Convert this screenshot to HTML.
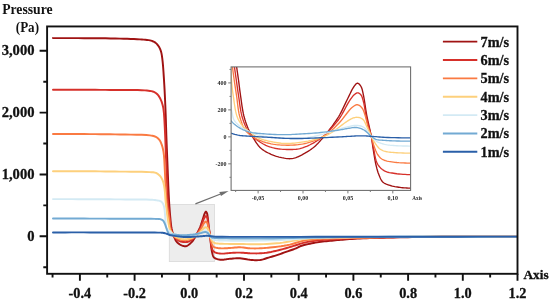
<!DOCTYPE html>
<html><head><meta charset="utf-8"><title>Pressure chart</title>
<style>html,body{margin:0;padding:0;background:#fff;width:550px;height:303px;overflow:hidden}svg{display:block}</style>
</head><body>
<svg width="550" height="303" viewBox="0 0 550 303">
<defs><clipPath id="cm"><rect x="47.1" y="26.45" width="470.4" height="247.35"/></clipPath><clipPath id="ci"><rect x="231.10" y="66.90" width="179.50" height="123.50"/></clipPath></defs>
<rect width="550" height="303" fill="#fff"/>
<rect x="169.3" y="204.4" width="45.2" height="57.2" fill="#ededed" stroke="#d9d9d9" stroke-width="0.8"/>
<g clip-path="url(#cm)" fill="none" stroke-width="1.95" stroke-linejoin="round" stroke-linecap="round">
<path d="M53.00 38.10L59.21 38.11L65.48 38.12L71.74 38.13L77.95 38.14L84.06 38.16L90.00 38.20L95.25 38.24L100.46 38.29L105.58 38.34L110.57 38.41L115.39 38.49L120.00 38.60L123.65 38.70L127.22 38.81L130.68 38.93L133.99 39.06L137.11 39.22L140.00 39.40L141.91 39.52L143.73 39.63L145.45 39.75L147.07 39.91L148.59 40.11L150.00 40.40L150.96 40.65L151.87 40.93L152.72 41.23L153.52 41.57L154.28 41.96L155.00 42.40L155.64 42.87L156.24 43.38L156.79 43.94L157.32 44.53L157.82 45.15L158.30 45.80L158.80 46.54L159.26 47.31L159.69 48.12L160.09 48.98L160.46 49.87L160.80 50.80L161.15 51.95L161.43 53.13L161.67 54.37L161.89 55.70L162.09 57.13L162.30 58.70L162.64 61.60L162.95 64.89L163.23 68.47L163.50 72.24L163.75 76.12L164.00 80.00L164.29 84.70L164.56 89.62L164.82 94.68L165.06 99.81L165.29 104.94L165.50 110.00L165.69 115.03L165.87 120.10L166.02 125.17L166.18 130.20L166.33 135.16L166.50 140.00L166.66 144.30L166.83 148.50L166.99 152.64L167.16 156.75L167.33 160.86L167.50 165.00L167.67 169.24L167.83 173.57L168.00 177.90L168.16 182.14L168.33 186.20L168.50 190.00L168.63 192.74L168.75 195.33L168.88 197.82L169.01 200.24L169.15 202.62L169.30 205.00L169.45 207.18L169.61 209.35L169.77 211.48L169.94 213.57L170.12 215.60L170.30 217.57L170.44 219.20L170.59 220.79L170.74 222.35L170.90 223.86L171.08 225.32L171.30 226.74L171.51 227.90L171.74 229.04L171.99 230.14L172.25 231.20L172.52 232.21L172.79 233.15L173.00 233.82L173.21 234.43L173.42 235.01L173.64 235.58L173.87 236.17L174.13 236.78L174.45 237.54L174.78 238.34L175.13 239.16L175.51 239.96L175.93 240.72L176.39 241.41L176.85 241.98L177.36 242.51L177.90 243.01L178.45 243.47L179.02 243.90L179.58 244.30L180.10 244.63L180.63 244.93L181.17 245.21L181.72 245.46L182.26 245.67L182.81 245.86L183.34 246.00L183.87 246.14L184.41 246.24L184.94 246.31L185.46 246.32L185.95 246.27L186.38 246.16L186.78 246.00L187.18 245.80L187.57 245.55L187.97 245.28L188.39 244.98L189.03 244.50L189.72 243.93L190.43 243.30L191.13 242.63L191.80 241.95L192.41 241.27L192.91 240.64L193.38 239.98L193.82 239.31L194.24 238.64L194.64 237.98L195.03 237.33L195.36 236.77L195.66 236.22L195.96 235.68L196.25 235.13L196.53 234.58L196.82 234.03L197.13 233.44L197.44 232.84L197.75 232.24L198.05 231.64L198.35 231.03L198.65 230.40L198.96 229.75L199.26 229.10L199.55 228.45L199.85 227.77L200.14 227.05L200.45 226.28L200.87 225.11L201.30 223.81L201.74 222.44L202.17 221.06L202.60 219.72L203.01 218.48L203.32 217.50L203.63 216.52L203.93 215.57L204.23 214.68L204.53 213.88L204.83 213.21L205.01 212.86L205.19 212.51L205.37 212.19L205.54 211.94L205.72 211.76L205.90 211.70L206.08 211.76L206.27 211.94L206.46 212.21L206.64 212.52L206.81 212.87L206.96 213.21L207.14 213.72L207.28 214.30L207.40 214.93L207.49 215.61L207.59 216.34L207.70 217.11L207.87 218.41L208.03 219.86L208.19 221.43L208.35 223.06L208.51 224.69L208.70 226.28L208.92 227.91L209.17 229.59L209.42 231.27L209.67 232.93L209.91 234.54L210.10 236.04L210.23 237.17L210.33 238.23L210.42 239.25L210.51 240.26L210.60 241.28L210.71 242.32L210.83 243.47L210.96 244.65L211.09 245.83L211.23 247.00L211.38 248.14L211.53 249.20L211.67 250.03L211.80 250.83L211.94 251.61L212.10 252.36L212.26 253.08L212.45 253.79L212.61 254.39L212.77 255.00L212.95 255.58L213.14 256.14L213.38 256.64L213.67 257.09L213.96 257.41L214.28 257.69L214.63 257.94L215.01 258.16L215.40 258.36L215.80 258.56L216.26 258.76L216.75 258.94L217.26 259.10L217.79 259.24L218.32 259.36L218.84 259.47L219.38 259.58L219.93 259.67L220.49 259.74L221.05 259.79L221.59 259.83L222.13 259.84L222.61 259.82L223.07 259.78L223.53 259.72L223.99 259.65L224.48 259.57L225.00 259.50L225.73 259.40L226.50 259.28L227.30 259.15L228.15 259.02L229.05 258.90L230.00 258.80L231.47 258.66L233.08 258.52L234.79 258.39L236.54 258.30L238.30 258.26L240.00 258.30L241.67 258.45L243.33 258.70L245.00 259.01L246.66 259.32L248.33 259.60L250.00 259.80L251.67 259.94L253.36 260.07L255.05 260.16L256.73 260.19L258.39 260.14L260.00 260.00L261.48 259.75L262.92 259.39L264.34 258.97L265.75 258.51L267.16 258.04L268.60 257.60L270.10 257.17L271.62 256.74L273.14 256.30L274.66 255.85L276.19 255.39L277.70 254.90L279.22 254.38L280.74 253.84L282.25 253.28L283.77 252.71L285.28 252.15L286.80 251.60L288.35 251.06L289.94 250.52L291.53 249.99L293.08 249.46L294.55 248.93L295.90 248.40L296.80 247.99L297.61 247.58L298.37 247.17L299.13 246.77L299.96 246.38L300.90 246.00L302.46 245.49L304.20 245.00L306.07 244.54L307.99 244.10L309.93 243.68L311.80 243.30L313.61 242.95L315.42 242.64L317.24 242.35L319.06 242.09L320.88 241.84L322.70 241.60L324.51 241.38L326.33 241.19L328.15 241.01L329.96 240.84L331.78 240.67L333.60 240.50L335.39 240.33L337.16 240.15L338.93 239.98L340.72 239.82L342.57 239.66L344.50 239.50L346.90 239.32L349.39 239.14L351.95 238.96L354.58 238.80L357.27 238.64L360.00 238.50L363.19 238.35L366.48 238.22L369.84 238.11L373.24 238.00L376.64 237.90L380.00 237.80L383.31 237.70L386.58 237.61L389.86 237.53L393.17 237.45L396.54 237.37L400.00 237.30L403.96 237.23L407.97 237.16L412.06 237.10L416.25 237.05L420.56 237.00L425.00 236.95L430.39 236.90L435.91 236.86L441.59 236.83L447.48 236.80L453.60 236.78L460.00 236.75L468.76 236.72L478.11 236.69L487.86 236.67L497.81 236.65L507.75 236.62L517.50 236.60" stroke="#a01313"/>
<path d="M53.00 89.70L59.21 89.72L65.48 89.73L71.74 89.74L77.95 89.76L84.06 89.78L90.00 89.80L95.21 89.82L100.33 89.85L105.37 89.88L110.32 89.91L115.19 89.95L120.00 90.00L124.45 90.02L128.97 90.02L133.44 90.02L137.69 90.06L141.60 90.18L145.00 90.40L146.80 90.56L148.46 90.72L149.99 90.91L151.40 91.15L152.70 91.47L153.90 91.90L154.71 92.29L155.45 92.72L156.12 93.20L156.74 93.73L157.33 94.29L157.90 94.90L158.48 95.61L159.01 96.38L159.50 97.20L159.96 98.05L160.39 98.92L160.80 99.80L161.21 100.73L161.58 101.70L161.93 102.68L162.25 103.68L162.54 104.69L162.80 105.70L163.03 106.69L163.22 107.65L163.38 108.62L163.52 109.64L163.66 110.76L163.80 112.00L164.03 114.43L164.23 117.20L164.41 120.23L164.58 123.44L164.74 126.72L164.90 130.00L165.09 133.93L165.26 138.03L165.42 142.24L165.58 146.51L165.74 150.79L165.90 155.00L166.06 159.18L166.23 163.37L166.39 167.57L166.56 171.74L166.72 175.89L166.90 180.00L167.06 183.95L167.21 187.93L167.37 191.89L167.54 195.76L167.75 199.48L168.00 203.00L168.24 205.66L168.53 208.23L168.83 210.70L169.13 213.08L169.42 215.37L169.69 217.57L169.86 219.24L170.01 220.84L170.14 222.39L170.29 223.88L170.47 225.33L170.69 226.74L170.92 227.91L171.17 229.07L171.45 230.20L171.74 231.27L172.04 232.26L172.34 233.15L172.54 233.70L172.73 234.20L172.94 234.67L173.15 235.10L173.37 235.52L173.61 235.91L173.83 236.21L174.05 236.48L174.29 236.73L174.53 236.98L174.80 237.23L175.08 237.51L175.49 237.93L175.94 238.40L176.42 238.88L176.93 239.35L177.45 239.79L177.97 240.17L178.47 240.49L178.99 240.77L179.52 241.03L180.06 241.26L180.62 241.46L181.20 241.64L181.86 241.79L182.55 241.91L183.27 242.00L183.98 242.06L184.68 242.09L185.34 242.10L185.87 242.09L186.38 242.07L186.88 242.03L187.38 241.95L187.87 241.84L188.39 241.68L189.05 241.40L189.74 241.04L190.43 240.62L191.11 240.15L191.78 239.66L192.41 239.16L193.00 238.65L193.58 238.11L194.13 237.55L194.66 236.97L195.16 236.39L195.63 235.81L196.02 235.32L196.36 234.83L196.69 234.34L197.00 233.84L197.32 233.33L197.65 232.79L198.05 232.12L198.48 231.39L198.92 230.65L199.33 229.92L199.72 229.21L200.05 228.57L200.25 228.17L200.42 227.81L200.57 227.46L200.72 227.11L200.87 226.73L201.06 226.28L201.43 225.31L201.85 224.13L202.30 222.85L202.76 221.57L203.20 220.39L203.61 219.40L203.85 218.88L204.08 218.40L204.30 217.95L204.53 217.55L204.75 217.19L204.99 216.88L205.14 216.69L205.31 216.50L205.47 216.34L205.64 216.21L205.80 216.12L205.96 216.10L206.13 216.15L206.31 216.26L206.49 216.43L206.66 216.64L206.82 216.87L206.96 217.11L207.15 217.51L207.29 217.98L207.41 218.50L207.52 219.07L207.62 219.68L207.73 220.32L207.89 221.36L208.03 222.52L208.17 223.77L208.31 225.06L208.47 226.37L208.64 227.65L208.86 229.04L209.12 230.48L209.38 231.93L209.65 233.36L209.89 234.75L210.10 236.04L210.23 237.00L210.34 237.89L210.44 238.75L210.54 239.60L210.65 240.48L210.77 241.41L210.92 242.60L211.07 243.88L211.23 245.19L211.42 246.48L211.67 247.66L211.99 248.70L212.27 249.35L212.57 249.95L212.89 250.51L213.26 251.01L213.65 251.46L214.09 251.86L214.55 252.18L215.05 252.43L215.58 252.63L216.14 252.80L216.72 252.95L217.32 253.10L218.05 253.26L218.80 253.39L219.58 253.50L220.40 253.57L221.25 253.62L222.13 253.65L223.32 253.63L224.58 253.54L225.89 253.40L227.24 253.25L228.61 253.11L230.00 253.00L231.60 252.90L233.24 252.80L234.92 252.71L236.62 252.64L238.32 252.60L240.00 252.60L241.67 252.66L243.33 252.78L245.00 252.92L246.67 253.08L248.33 253.21L250.00 253.30L251.68 253.35L253.37 253.39L255.07 253.40L256.75 253.40L258.40 253.36L260.00 253.30L261.38 253.22L262.72 253.12L264.03 253.01L265.34 252.86L266.65 252.70L268.00 252.50L269.47 252.25L270.95 251.97L272.45 251.65L273.96 251.31L275.48 250.96L277.00 250.60L278.62 250.20L280.27 249.78L281.93 249.35L283.59 248.90L285.22 248.45L286.80 248.00L288.20 247.59L289.56 247.18L290.90 246.77L292.23 246.35L293.59 245.93L295.00 245.50L296.61 245.00L298.25 244.47L299.93 243.94L301.62 243.41L303.31 242.93L305.00 242.50L306.63 242.14L308.25 241.82L309.86 241.54L311.51 241.28L313.21 241.04L315.00 240.80L317.32 240.53L319.77 240.29L322.31 240.07L324.88 239.87L327.46 239.68L330.00 239.50L332.50 239.32L335.00 239.16L337.50 239.01L340.00 238.86L342.50 238.73L345.00 238.60L347.47 238.48L349.92 238.37L352.36 238.27L354.84 238.18L357.38 238.09L360.00 238.00L363.17 237.90L366.45 237.81L369.82 237.73L373.23 237.65L376.63 237.57L380.00 237.50L383.31 237.43L386.58 237.37L389.86 237.31L393.17 237.25L396.54 237.20L400.00 237.15L403.96 237.10L407.97 237.05L412.06 237.01L416.25 236.97L420.56 236.93L425.00 236.90L430.39 236.87L435.91 236.84L441.59 236.81L447.48 236.79L453.60 236.77L460.00 236.75L468.76 236.72L478.11 236.70L487.86 236.67L497.81 236.65L507.75 236.62L517.50 236.60" stroke="#d6302a"/>
<path d="M53.00 134.00L59.21 134.01L65.48 134.02L71.74 134.03L77.95 134.04L84.06 134.06L90.00 134.10L95.18 134.14L100.23 134.19L105.20 134.25L110.12 134.32L115.04 134.40L120.00 134.50L125.27 134.58L130.86 134.64L136.46 134.71L141.73 134.83L146.35 135.05L150.00 135.40L151.28 135.59L152.39 135.77L153.37 135.98L154.26 136.22L155.09 136.52L155.90 136.90L156.59 137.30L157.23 137.75L157.84 138.24L158.40 138.77L158.92 139.32L159.40 139.90L159.82 140.49L160.19 141.10L160.52 141.75L160.83 142.42L161.12 143.10L161.40 143.80L161.70 144.58L161.97 145.39L162.23 146.21L162.47 147.06L162.69 147.92L162.90 148.80L163.11 149.76L163.30 150.71L163.46 151.68L163.62 152.70L163.76 153.80L163.90 155.00L164.10 157.09L164.26 159.43L164.40 161.95L164.53 164.60L164.66 167.30L164.80 170.00L164.97 173.21L165.13 176.59L165.29 180.04L165.45 183.49L165.62 186.84L165.80 190.00L165.94 192.48L166.07 194.86L166.21 197.17L166.36 199.45L166.56 201.71L166.80 204.00L167.12 206.31L167.51 208.64L167.94 210.96L168.37 213.25L168.76 215.46L169.08 217.57L169.26 219.21L169.40 220.82L169.51 222.37L169.63 223.87L169.78 225.33L169.99 226.74L170.21 227.92L170.46 229.09L170.72 230.23L171.02 231.30L171.34 232.29L171.70 233.15L171.96 233.67L172.23 234.13L172.52 234.54L172.82 234.93L173.13 235.30L173.46 235.68L173.80 236.04L174.14 236.39L174.50 236.72L174.88 237.04L175.28 237.35L175.72 237.65L176.28 238.00L176.90 238.35L177.55 238.68L178.22 238.98L178.90 239.25L179.58 239.48L180.27 239.67L180.96 239.82L181.67 239.94L182.38 240.03L183.10 240.09L183.82 240.12L184.57 240.14L185.34 240.12L186.12 240.08L186.89 240.01L187.65 239.90L188.39 239.76L189.08 239.59L189.77 239.38L190.44 239.15L191.10 238.88L191.76 238.58L192.41 238.24L193.10 237.84L193.79 237.40L194.47 236.92L195.14 236.40L195.79 235.83L196.43 235.22L197.18 234.38L197.93 233.43L198.67 232.41L199.37 231.37L200.01 230.38L200.57 229.49L200.91 228.91L201.21 228.36L201.48 227.84L201.73 227.33L201.99 226.81L202.27 226.28L202.59 225.69L202.90 225.07L203.22 224.44L203.54 223.84L203.88 223.30L204.22 222.84L204.49 222.53L204.77 222.23L205.05 221.96L205.33 221.74L205.61 221.59L205.87 221.55L206.12 221.64L206.37 221.82L206.62 222.08L206.86 222.39L207.07 222.73L207.27 223.07L207.48 223.51L207.65 224.00L207.80 224.53L207.93 225.09L208.05 225.67L208.18 226.28L208.35 227.11L208.50 228.03L208.64 228.98L208.79 229.94L208.93 230.89L209.10 231.78L209.26 232.52L209.43 233.24L209.60 233.94L209.77 234.63L209.94 235.33L210.10 236.04L210.25 236.78L210.37 237.53L210.50 238.27L210.63 239.02L210.76 239.76L210.92 240.49L211.09 241.21L211.27 241.94L211.46 242.66L211.66 243.36L211.89 244.02L212.14 244.62L212.35 245.04L212.56 245.44L212.79 245.82L213.04 246.17L213.33 246.49L213.67 246.77L214.15 247.07L214.71 247.31L215.33 247.51L215.98 247.68L216.65 247.83L217.32 247.96L218.06 248.10L218.82 248.20L219.60 248.27L220.41 248.32L221.25 248.36L222.13 248.38L223.32 248.38L224.58 248.34L225.89 248.27L227.24 248.18L228.61 248.09L230.00 248.00L231.60 247.88L233.25 247.73L234.93 247.56L236.62 247.42L238.32 247.32L240.00 247.30L241.67 247.38L243.33 247.54L245.00 247.76L246.67 247.98L248.33 248.17L250.00 248.30L251.67 248.37L253.33 248.40L255.00 248.41L256.67 248.40L258.33 248.36L260.00 248.30L261.64 248.22L263.24 248.12L264.84 248.00L266.48 247.85L268.19 247.69L270.00 247.50L272.55 247.24L275.27 246.95L278.10 246.63L281.01 246.26L283.92 245.82L286.80 245.30L289.87 244.59L293.02 243.72L296.20 242.77L299.30 241.84L302.26 241.02L305.00 240.40L306.80 240.09L308.46 239.86L310.05 239.69L311.62 239.55L313.25 239.43L315.00 239.30L317.30 239.14L319.69 239.01L322.17 238.90L324.73 238.80L327.34 238.70L330.00 238.60L333.12 238.47L336.30 238.35L339.57 238.23L342.93 238.12L346.40 238.00L350.00 237.90L354.65 237.78L359.55 237.67L364.62 237.57L369.78 237.47L374.93 237.38L380.00 237.30L384.95 237.23L389.84 237.16L394.73 237.10L399.68 237.05L404.75 237.00L410.00 236.95L416.21 236.90L422.52 236.86L428.99 236.83L435.68 236.80L442.66 236.78L450.00 236.75L460.23 236.72L471.20 236.69L482.65 236.67L494.35 236.65L506.05 236.62L517.50 236.60" stroke="#fa7a42"/>
<path d="M53.00 171.20L59.21 171.21L65.48 171.22L71.74 171.23L77.95 171.25L84.06 171.27L90.00 171.30L95.18 171.34L100.23 171.38L105.20 171.43L110.12 171.48L115.04 171.54L120.00 171.60L125.27 171.65L130.86 171.69L136.45 171.73L141.72 171.79L146.34 171.91L150.00 172.10L151.27 172.18L152.37 172.25L153.34 172.32L154.22 172.44L155.06 172.62L155.90 172.90L156.66 173.25L157.38 173.67L158.07 174.15L158.72 174.67L159.33 175.22L159.90 175.80L160.41 176.39L160.88 177.02L161.30 177.68L161.70 178.37L162.06 179.08L162.40 179.80L162.72 180.57L163.01 181.37L163.26 182.19L163.49 183.03L163.70 183.90L163.90 184.80L164.12 185.90L164.30 187.04L164.47 188.22L164.62 189.43L164.76 190.69L164.90 192.00L165.06 193.65L165.19 195.34L165.30 197.10L165.43 198.94L165.59 200.90L165.80 203.00L166.22 206.67L166.74 211.00L167.33 215.58L167.96 219.99L168.58 223.85L169.17 226.74L169.39 227.60L169.61 228.33L169.82 228.96L170.05 229.53L170.29 230.08L170.57 230.63L170.86 231.15L171.18 231.65L171.52 232.13L171.87 232.59L172.19 233.01L172.49 233.38L172.66 233.60L172.82 233.80L172.96 233.97L173.12 234.14L173.28 234.33L173.46 234.53L173.76 234.87L174.07 235.24L174.41 235.63L174.78 236.03L175.17 236.40L175.59 236.73L176.12 237.07L176.70 237.38L177.31 237.66L177.94 237.92L178.59 238.16L179.25 238.38L179.97 238.61L180.72 238.82L181.49 239.01L182.27 239.16L183.05 239.28L183.82 239.34L184.58 239.35L185.35 239.31L186.12 239.23L186.89 239.11L187.65 238.98L188.39 238.84L189.07 238.70L189.74 238.55L190.40 238.38L191.05 238.19L191.70 237.98L192.35 237.74L193.03 237.46L193.73 237.15L194.42 236.81L195.10 236.45L195.73 236.09L196.31 235.72L196.71 235.44L197.07 235.16L197.40 234.87L197.73 234.57L198.07 234.25L198.44 233.89L199.01 233.30L199.63 232.61L200.27 231.88L200.91 231.15L201.52 230.46L202.09 229.85L202.47 229.46L202.84 229.08L203.18 228.73L203.53 228.40L203.87 228.12L204.22 227.88L204.50 227.72L204.78 227.58L205.07 227.46L205.35 227.37L205.62 227.33L205.90 227.33L206.19 227.39L206.49 227.50L206.78 227.65L207.07 227.85L207.33 228.08L207.57 228.34L207.85 228.77L208.07 229.30L208.26 229.89L208.43 230.52L208.61 231.16L208.79 231.78L209.01 232.47L209.23 233.19L209.45 233.93L209.67 234.66L209.88 235.37L210.10 236.04L210.28 236.59L210.46 237.12L210.64 237.63L210.82 238.13L211.02 238.62L211.23 239.12L211.45 239.61L211.68 240.11L211.92 240.60L212.17 241.07L212.45 241.50L212.75 241.87L213.02 242.12L213.30 242.35L213.60 242.54L213.91 242.72L214.24 242.87L214.58 243.01L214.99 243.15L215.41 243.25L215.86 243.33L216.32 243.40L216.81 243.46L217.32 243.52L218.01 243.59L218.71 243.65L219.45 243.69L220.25 243.73L221.14 243.76L222.13 243.79L224.44 243.85L227.21 243.89L230.30 243.92L233.55 243.95L236.83 243.97L240.00 244.00L243.27 244.05L246.58 244.12L249.93 244.19L253.29 244.24L256.65 244.25L260.00 244.20L263.37 244.10L266.78 243.97L270.19 243.80L273.55 243.58L276.84 243.32L280.00 243.00L282.67 242.65L285.28 242.24L287.83 241.80L290.31 241.34L292.70 240.90L295.00 240.50L296.76 240.20L298.41 239.91L300.00 239.63L301.59 239.36L303.24 239.12L305.00 238.90L307.30 238.68L309.69 238.50L312.17 238.35L314.72 238.23L317.34 238.11L320.00 238.00L323.09 237.88L326.20 237.78L329.39 237.70L332.72 237.63L336.24 237.57L340.00 237.50L345.87 237.41L352.32 237.34L359.14 237.27L366.16 237.21L373.17 237.16L380.00 237.10L386.46 237.04L392.68 236.99L398.90 236.94L405.37 236.89L412.32 236.84L420.00 236.80L433.78 236.75L449.33 236.71L466.08 236.68L483.42 236.65L500.76 236.63L517.50 236.60" stroke="#fdd07c"/>
<path d="M53.00 199.10L59.21 199.12L65.48 199.13L71.74 199.14L77.95 199.16L84.06 199.18L90.00 199.20L95.18 199.23L100.23 199.26L105.20 199.29L110.12 199.32L115.04 199.36L120.00 199.40L125.27 199.43L130.85 199.45L136.43 199.47L141.70 199.51L146.33 199.58L150.00 199.70L151.27 199.76L152.37 199.82L153.33 199.88L154.22 199.96L155.09 200.07L156.00 200.20L156.88 200.34L157.77 200.47L158.64 200.63L159.47 200.82L160.24 201.07L160.90 201.40L161.35 201.72L161.75 202.07L162.11 202.46L162.43 202.89L162.72 203.33L163.00 203.80L163.27 204.34L163.51 204.92L163.71 205.53L163.88 206.16L164.05 206.82L164.20 207.50L164.36 208.34L164.50 209.21L164.61 210.11L164.71 211.05L164.80 212.01L164.90 213.00L165.01 214.25L165.10 215.57L165.19 216.92L165.28 218.30L165.38 219.67L165.50 221.00L165.60 222.32L165.66 223.69L165.73 225.05L165.86 226.35L166.10 227.52L166.50 228.50L166.94 229.08L167.48 229.56L168.09 229.97L168.71 230.34L169.29 230.71L169.81 231.09L170.15 231.41L170.46 231.73L170.76 232.04L171.04 232.35L171.33 232.64L171.64 232.93L171.93 233.18L172.22 233.42L172.51 233.65L172.81 233.87L173.13 234.09L173.46 234.30L173.87 234.55L174.29 234.80L174.74 235.04L175.20 235.27L175.69 235.48L176.20 235.68L176.89 235.88L177.63 236.06L178.40 236.22L179.20 236.35L179.99 236.48L180.77 236.59L181.53 236.70L182.29 236.81L183.05 236.89L183.82 236.97L184.58 237.02L185.34 237.05L186.11 237.07L186.88 237.06L187.65 237.04L188.42 237.00L189.17 236.93L189.91 236.82L190.59 236.69L191.27 236.53L191.93 236.34L192.58 236.13L193.23 235.91L193.87 235.68L194.49 235.44L195.09 235.18L195.69 234.92L196.28 234.64L196.89 234.36L197.52 234.07L198.26 233.73L199.02 233.37L199.80 232.99L200.58 232.63L201.35 232.30L202.09 232.01L202.73 231.77L203.37 231.54L204.00 231.33L204.62 231.16L205.20 231.06L205.75 231.05L206.15 231.10L206.52 231.20L206.88 231.33L207.23 231.51L207.56 231.74L207.88 232.01L208.31 232.51L208.70 233.17L209.07 233.91L209.42 234.68L209.76 235.41L210.10 236.04L210.34 236.45L210.56 236.84L210.77 237.21L210.99 237.56L211.24 237.89L211.53 238.20L211.92 238.52L212.34 238.82L212.81 239.09L213.29 239.34L213.78 239.57L214.27 239.76L214.75 239.91L215.24 240.03L215.73 240.11L216.24 240.18L216.77 240.25L217.32 240.31L218.00 240.38L218.67 240.43L219.37 240.46L220.15 240.49L221.05 240.51L222.13 240.54L226.42 240.61L232.26 240.67L239.10 240.71L246.37 240.71L253.53 240.68L260.00 240.60L265.27 240.49L270.48 240.34L275.60 240.17L280.58 239.97L285.39 239.74L290.00 239.50L293.52 239.27L296.82 239.01L300.00 238.73L303.18 238.46L306.48 238.21L310.00 238.00L314.53 237.81L319.17 237.66L323.98 237.55L329.01 237.47L334.33 237.39L340.00 237.30L348.58 237.18L357.73 237.08L367.46 237.00L377.76 236.92L388.61 236.86L400.00 236.80L417.32 236.73L436.27 236.69L456.31 236.66L476.88 236.65L497.46 236.63L517.50 236.60" stroke="#d3eaf4"/>
<path d="M53.00 218.50L59.21 218.52L65.48 218.53L71.74 218.55L77.95 218.57L84.06 218.58L90.00 218.60L95.16 218.62L100.15 218.63L105.05 218.64L109.95 218.66L114.90 218.68L120.00 218.70L126.05 218.72L132.65 218.74L139.32 218.76L145.60 218.79L150.98 218.84L155.00 218.90L156.09 218.91L157.01 218.90L157.81 218.90L158.53 218.92L159.21 218.98L159.90 219.10L160.47 219.24L161.01 219.39L161.53 219.58L162.02 219.80L162.48 220.07L162.90 220.40L163.32 220.85L163.69 221.39L164.03 221.99L164.33 222.63L164.62 223.27L164.90 223.90L165.17 224.53L165.41 225.17L165.63 225.83L165.85 226.48L166.07 227.14L166.30 227.80L166.54 228.48L166.77 229.16L167.00 229.86L167.24 230.53L167.50 231.19L167.80 231.80L168.08 232.34L168.36 232.90L168.66 233.43L168.99 233.91L169.36 234.31L169.80 234.60L170.37 234.75L171.02 234.74L171.73 234.63L172.46 234.49L173.19 234.38L173.89 234.35L174.53 234.40L175.15 234.49L175.76 234.61L176.39 234.73L177.04 234.85L177.73 234.94L178.67 235.04L179.68 235.13L180.74 235.20L181.80 235.26L182.84 235.30L183.82 235.31L184.61 235.29L185.37 235.25L186.12 235.20L186.86 235.13L187.61 235.06L188.39 234.99L189.27 234.92L190.16 234.84L191.06 234.76L191.99 234.67L192.92 234.57L193.87 234.44L194.99 234.26L196.18 234.04L197.39 233.81L198.56 233.56L199.64 233.32L200.57 233.11L201.05 232.99L201.47 232.86L201.86 232.74L202.23 232.63L202.61 232.52L203.01 232.42L203.43 232.32L203.87 232.20L204.31 232.10L204.75 232.02L205.18 231.98L205.59 232.01L206.00 232.10L206.39 232.23L206.78 232.41L207.16 232.63L207.52 232.88L207.88 233.15L208.28 233.55L208.67 234.04L209.04 234.57L209.41 235.11L209.76 235.61L210.10 236.04L210.34 236.32L210.56 236.58L210.78 236.83L211.00 237.05L211.25 237.25L211.53 237.42L211.92 237.58L212.36 237.69L212.82 237.76L213.31 237.82L213.79 237.87L214.27 237.92L214.76 237.98L215.25 238.03L215.74 238.06L216.25 238.10L216.77 238.12L217.32 238.15L218.01 238.19L218.67 238.21L219.37 238.23L220.15 238.25L221.05 238.27L222.13 238.29L226.35 238.36L232.05 238.44L238.76 238.52L245.97 238.58L253.21 238.61L260.00 238.60L266.60 238.53L273.25 238.41L279.93 238.26L286.63 238.10L293.32 237.94L300.00 237.80L306.57 237.67L313.03 237.54L319.49 237.42L326.07 237.30L332.87 237.19L340.00 237.10L349.07 237.01L358.36 236.95L367.99 236.90L378.07 236.87L388.70 236.84L400.00 236.80L417.32 236.75L436.27 236.71L456.31 236.68L476.88 236.66L497.46 236.63L517.50 236.60" stroke="#72aad3"/>
<path d="M53.00 232.40L59.15 232.40L65.28 232.40L71.41 232.39L77.56 232.39L83.75 232.39L90.00 232.40L96.66 232.41L103.48 232.42L110.35 232.44L117.14 232.46L123.73 232.48L130.00 232.50L135.22 232.51L140.55 232.51L145.75 232.52L150.55 232.53L154.72 232.55L158.00 232.60L159.06 232.62L159.95 232.62L160.74 232.63L161.46 232.66L162.17 232.71L162.90 232.80L163.59 232.92L164.26 233.06L164.92 233.23L165.56 233.41L166.19 233.60L166.80 233.80L167.31 233.99L167.77 234.19L168.21 234.40L168.68 234.61L169.20 234.81L169.80 235.00L171.10 235.31L172.67 235.61L174.40 235.89L176.15 236.14L177.81 236.36L179.25 236.55L180.10 236.65L180.89 236.74L181.63 236.81L182.35 236.87L183.07 236.92L183.82 236.96L184.57 237.00L185.32 237.03L186.08 237.05L186.83 237.06L187.60 237.06L188.39 237.05L189.26 237.03L190.16 236.99L191.06 236.95L191.98 236.89L192.92 236.83L193.87 236.78L194.98 236.71L196.15 236.63L197.34 236.55L198.50 236.47L199.60 236.39L200.57 236.32L201.15 236.27L201.67 236.22L202.17 236.18L202.64 236.13L203.12 236.09L203.61 236.04L204.12 236.00L204.62 235.95L205.13 235.90L205.63 235.86L206.14 235.83L206.66 235.81L207.22 235.82L207.78 235.85L208.35 235.88L208.92 235.93L209.51 235.99L210.10 236.04L210.76 236.12L211.41 236.20L212.08 236.30L212.77 236.39L213.50 236.48L214.27 236.55L215.35 236.62L216.41 236.67L217.54 236.70L218.82 236.73L220.32 236.75L222.13 236.78L230.33 236.85L241.75 236.88L255.42 236.89L270.34 236.88L285.53 236.86L300.00 236.85L315.85 236.84L332.11 236.82L348.72 236.79L365.61 236.76L382.72 236.72L400.00 236.70L419.04 236.68L438.47 236.66L458.16 236.65L477.98 236.63L497.81 236.62L517.50 236.60" stroke="#2a5fa8"/>
</g>
<rect x="47.1" y="26.45" width="470.4" height="247.35" fill="none" stroke="#111" stroke-width="1.9"/>
<path d="M39.6 50.81H47.1M39.6 112.64H47.1M39.6 174.47H47.1M39.6 236.30H47.1M43.3 81.72H47.1M43.3 143.56H47.1M43.3 205.39H47.1M43.3 267.22H47.1M79.90 273.8V280.8M134.60 273.8V280.8M189.30 273.8V280.8M244.00 273.8V280.8M298.70 273.8V280.8M353.40 273.8V280.8M408.10 273.8V280.8M462.80 273.8V280.8M517.50 273.8V280.8M52.55 273.8V277.4M107.25 273.8V277.4M161.95 273.8V277.4M216.65 273.8V277.4M271.35 273.8V277.4M326.05 273.8V277.4M380.75 273.8V277.4M435.45 273.8V277.4M490.15 273.8V277.4" stroke="#111" stroke-width="1.9" fill="none"/>
<text x="34.5" y="55.41" text-anchor="end" style="font-family:'Liberation Serif','Times New Roman',serif;font-weight:bold;stroke:#111;stroke-width:0.3px;font-size:14.60px" fill="#111">3,000</text>
<text x="34.5" y="117.24" text-anchor="end" style="font-family:'Liberation Serif','Times New Roman',serif;font-weight:bold;stroke:#111;stroke-width:0.3px;font-size:14.60px" fill="#111">2,000</text>
<text x="34.5" y="179.07" text-anchor="end" style="font-family:'Liberation Serif','Times New Roman',serif;font-weight:bold;stroke:#111;stroke-width:0.3px;font-size:14.60px" fill="#111">1,000</text>
<text x="34.5" y="240.90" text-anchor="end" style="font-family:'Liberation Serif','Times New Roman',serif;font-weight:bold;stroke:#111;stroke-width:0.3px;font-size:14.60px" fill="#111">0</text>
<text x="79.90" y="297.8" text-anchor="middle" style="font-family:'Liberation Serif','Times New Roman',serif;font-weight:bold;stroke:#111;stroke-width:0.3px;font-size:14.30px" fill="#111">-0.4</text>
<text x="134.60" y="297.8" text-anchor="middle" style="font-family:'Liberation Serif','Times New Roman',serif;font-weight:bold;stroke:#111;stroke-width:0.3px;font-size:14.30px" fill="#111">-0.2</text>
<text x="189.30" y="297.8" text-anchor="middle" style="font-family:'Liberation Serif','Times New Roman',serif;font-weight:bold;stroke:#111;stroke-width:0.3px;font-size:14.30px" fill="#111">0.0</text>
<text x="244.00" y="297.8" text-anchor="middle" style="font-family:'Liberation Serif','Times New Roman',serif;font-weight:bold;stroke:#111;stroke-width:0.3px;font-size:14.30px" fill="#111">0.2</text>
<text x="298.70" y="297.8" text-anchor="middle" style="font-family:'Liberation Serif','Times New Roman',serif;font-weight:bold;stroke:#111;stroke-width:0.3px;font-size:14.30px" fill="#111">0.4</text>
<text x="353.40" y="297.8" text-anchor="middle" style="font-family:'Liberation Serif','Times New Roman',serif;font-weight:bold;stroke:#111;stroke-width:0.3px;font-size:14.30px" fill="#111">0.6</text>
<text x="408.10" y="297.8" text-anchor="middle" style="font-family:'Liberation Serif','Times New Roman',serif;font-weight:bold;stroke:#111;stroke-width:0.3px;font-size:14.30px" fill="#111">0.8</text>
<text x="462.80" y="297.8" text-anchor="middle" style="font-family:'Liberation Serif','Times New Roman',serif;font-weight:bold;stroke:#111;stroke-width:0.3px;font-size:14.30px" fill="#111">1.0</text>
<text x="517.50" y="297.8" text-anchor="middle" style="font-family:'Liberation Serif','Times New Roman',serif;font-weight:bold;stroke:#111;stroke-width:0.3px;font-size:14.30px" fill="#111">1.2</text>
<text transform="translate(27.4 14.0) scale(1 1.0)" text-anchor="middle" style="font-family:'Liberation Serif','Times New Roman',serif;font-weight:bold;font-size:13.70px" fill="#111">Pressure</text>
<text transform="translate(27.4 31.7) scale(1 1.06)" text-anchor="middle" style="font-family:'Liberation Serif','Times New Roman',serif;font-weight:bold;font-size:13.1px" fill="#111">(Pa)</text>
<text x="523.5" y="279.3" style="font-family:'Liberation Serif','Times New Roman',serif;font-weight:bold;stroke:#111;stroke-width:0.3px;font-size:13.30px" fill="#111">Axis</text>
<path d="M442.9 41.60H477.3" stroke="#a01313" stroke-width="1.9"/>
<text x="480.5" y="46.60" style="font-family:'Liberation Serif','Times New Roman',serif;font-weight:bold;stroke:#111;stroke-width:0.3px;font-size:14.30px" fill="#111">7m/s</text>
<path d="M442.9 59.97H477.3" stroke="#d6302a" stroke-width="1.9"/>
<text x="480.5" y="64.97" style="font-family:'Liberation Serif','Times New Roman',serif;font-weight:bold;stroke:#111;stroke-width:0.3px;font-size:14.30px" fill="#111">6m/s</text>
<path d="M442.9 78.34H477.3" stroke="#fa7a42" stroke-width="1.9"/>
<text x="480.5" y="83.34" style="font-family:'Liberation Serif','Times New Roman',serif;font-weight:bold;stroke:#111;stroke-width:0.3px;font-size:14.30px" fill="#111">5m/s</text>
<path d="M442.9 96.71H477.3" stroke="#fdd07c" stroke-width="1.9"/>
<text x="480.5" y="101.71" style="font-family:'Liberation Serif','Times New Roman',serif;font-weight:bold;stroke:#111;stroke-width:0.3px;font-size:14.30px" fill="#111">4m/s</text>
<path d="M442.9 115.08H477.3" stroke="#d3eaf4" stroke-width="1.9"/>
<text x="480.5" y="120.08" style="font-family:'Liberation Serif','Times New Roman',serif;font-weight:bold;stroke:#111;stroke-width:0.3px;font-size:14.30px" fill="#111">3m/s</text>
<path d="M442.9 133.45H477.3" stroke="#72aad3" stroke-width="1.9"/>
<text x="480.5" y="138.45" style="font-family:'Liberation Serif','Times New Roman',serif;font-weight:bold;stroke:#111;stroke-width:0.3px;font-size:14.30px" fill="#111">2m/s</text>
<path d="M442.9 151.82H477.3" stroke="#2a5fa8" stroke-width="1.9"/>
<text x="480.5" y="156.82" style="font-family:'Liberation Serif','Times New Roman',serif;font-weight:bold;stroke:#111;stroke-width:0.3px;font-size:14.30px" fill="#111">1m/s</text>
<path d="M195.4 203.9L220.6 194.0" stroke="#6e6e6e" stroke-width="1.25"/>
<path d="M228.6 190.9L219.3 192.1L221.0 196.0Z" fill="#6e6e6e"/>
<rect x="231.10" y="66.90" width="179.50" height="123.50" fill="#fff"/>
<g clip-path="url(#ci)" fill="none" stroke-width="1.35" stroke-linejoin="round" stroke-linecap="round">
<path d="M234.70 53.40L234.94 55.06L235.17 56.73L235.41 58.39L235.65 60.05L235.89 61.71L236.12 63.37L236.36 65.04L236.60 66.70L236.84 68.35L237.07 70.00L237.31 71.63L237.55 73.27L237.79 74.92L238.02 76.59L238.26 78.28L238.50 80.00L238.76 81.92L239.01 83.85L239.25 85.81L239.50 87.80L239.75 89.81L240.02 91.84L240.30 93.91L240.60 96.00L240.95 98.42L241.29 100.94L241.65 103.51L242.02 106.11L242.43 108.69L242.87 111.22L243.36 113.67L243.90 116.00L244.42 117.92L244.97 119.80L245.56 121.65L246.18 123.45L246.82 125.20L247.47 126.87L248.13 128.48L248.80 130.00L249.31 131.11L249.82 132.15L250.34 133.13L250.86 134.08L251.40 135.01L251.97 135.94L252.56 136.90L253.20 137.90L253.99 139.15L254.81 140.45L255.66 141.79L256.55 143.13L257.48 144.45L258.47 145.72L259.50 146.91L260.60 148.00L261.76 148.98L262.99 149.90L264.28 150.75L265.61 151.55L266.98 152.30L268.36 153.01L269.74 153.67L271.10 154.30L272.40 154.86L273.71 155.39L275.03 155.87L276.36 156.32L277.69 156.72L279.03 157.09L280.37 157.41L281.70 157.70L282.99 157.95L284.31 158.19L285.62 158.39L286.94 158.56L288.25 158.67L289.53 158.72L290.79 158.70L292.00 158.60L293.05 158.43L294.05 158.21L295.03 157.92L295.98 157.58L296.95 157.20L297.92 156.77L298.94 156.30L300.00 155.80L301.54 155.04L303.19 154.16L304.91 153.20L306.66 152.17L308.40 151.08L310.10 149.96L311.71 148.83L313.20 147.70L314.43 146.69L315.60 145.63L316.73 144.56L317.81 143.46L318.85 142.35L319.86 141.25L320.84 140.17L321.80 139.10L322.61 138.19L323.38 137.29L324.13 136.40L324.85 135.51L325.56 134.62L326.27 133.72L326.98 132.82L327.70 131.90L328.46 130.94L329.21 129.98L329.97 129.00L330.73 128.03L331.48 127.04L332.23 126.04L332.97 125.03L333.70 124.00L334.45 122.94L335.19 121.88L335.92 120.83L336.65 119.75L337.38 118.65L338.11 117.50L338.85 116.29L339.60 115.00L340.63 113.13L341.68 111.08L342.76 108.90L343.84 106.65L344.91 104.38L345.97 102.15L347.01 100.00L348.00 98.00L348.79 96.40L349.57 94.78L350.33 93.19L351.07 91.63L351.81 90.16L352.54 88.79L353.27 87.56L354.00 86.50L354.44 85.91L354.88 85.32L355.32 84.77L355.76 84.26L356.19 83.83L356.63 83.50L357.06 83.28L357.50 83.20L357.95 83.28L358.41 83.50L358.88 83.84L359.34 84.28L359.80 84.79L360.23 85.34L360.63 85.92L361.00 86.50L361.43 87.32L361.79 88.21L362.11 89.18L362.38 90.23L362.63 91.33L362.88 92.50L363.13 93.73L363.40 95.00L363.82 97.09L364.23 99.38L364.62 101.85L365.01 104.43L365.40 107.08L365.81 109.76L366.24 112.42L366.70 115.00L367.23 117.67L367.82 120.39L368.44 123.15L369.07 125.90L369.69 128.62L370.29 131.28L370.83 133.85L371.30 136.30L371.62 138.15L371.89 139.92L372.13 141.62L372.36 143.30L372.57 144.95L372.80 146.60L373.03 148.28L373.30 150.00L373.60 151.87L373.91 153.78L374.22 155.72L374.55 157.66L374.89 159.58L375.24 161.46L375.61 163.27L376.00 165.00L376.33 166.37L376.66 167.70L377.00 169.00L377.36 170.26L377.73 171.49L378.12 172.69L378.54 173.86L379.00 175.00L379.42 176.00L379.83 177.00L380.26 177.99L380.72 178.95L381.20 179.86L381.74 180.72L382.33 181.50L383.00 182.20L383.72 182.79L384.50 183.29L385.33 183.73L386.21 184.12L387.12 184.46L388.07 184.78L389.03 185.09L390.00 185.40L391.15 185.74L392.34 186.05L393.58 186.33L394.84 186.59L396.12 186.82L397.42 187.03L398.71 187.22L400.00 187.40L401.34 187.57L402.70 187.71L404.08 187.83L405.47 187.93L406.85 188.02L408.20 188.09L409.52 188.15L410.80 188.20L411.86 188.23L412.88 188.24L413.89 188.25L414.87 188.24L415.85 188.23L416.83 188.21L417.81 188.20L418.80 188.20" stroke="#a01313"/>
<path d="M232.50 53.40L232.74 55.06L232.98 56.73L233.21 58.39L233.45 60.05L233.69 61.71L233.92 63.37L234.16 65.04L234.40 66.70L234.64 68.35L234.87 70.00L235.10 71.63L235.34 73.27L235.57 74.92L235.81 76.59L236.05 78.28L236.30 80.00L236.57 81.92L236.84 83.86L237.12 85.81L237.40 87.80L237.68 89.81L237.98 91.84L238.28 93.91L238.60 96.00L238.95 98.42L239.30 100.94L239.64 103.51L240.00 106.11L240.39 108.70L240.83 111.23L241.33 113.68L241.90 116.00L242.46 117.94L243.07 119.86L243.72 121.75L244.41 123.58L245.12 125.35L245.84 127.02L246.57 128.58L247.30 130.00L247.80 130.91L248.30 131.77L248.80 132.58L249.30 133.33L249.82 134.05L250.36 134.73L250.92 135.38L251.50 136.00L252.04 136.52L252.59 136.99L253.15 137.42L253.73 137.82L254.33 138.22L254.95 138.62L255.61 139.05L256.30 139.50L257.32 140.19L258.41 140.93L259.56 141.70L260.77 142.49L262.01 143.26L263.27 144.01L264.54 144.69L265.80 145.30L267.06 145.84L268.33 146.33L269.62 146.78L270.93 147.20L272.26 147.57L273.61 147.91L274.99 148.22L276.40 148.50L278.02 148.77L279.71 148.99L281.45 149.17L283.21 149.31L284.97 149.40L286.70 149.47L288.39 149.50L290.00 149.50L291.32 149.49L292.59 149.47L293.82 149.43L295.04 149.36L296.25 149.26L297.47 149.10L298.71 148.89L300.00 148.60L301.60 148.16L303.25 147.62L304.94 146.99L306.64 146.29L308.34 145.54L310.01 144.75L311.64 143.93L313.20 143.10L314.64 142.29L316.05 141.43L317.45 140.53L318.81 139.61L320.13 138.66L321.41 137.71L322.64 136.75L323.80 135.80L324.73 135.00L325.60 134.21L326.42 133.41L327.22 132.61L328.00 131.79L328.78 130.95L329.58 130.09L330.40 129.20L331.39 128.12L332.43 126.97L333.50 125.77L334.56 124.56L335.60 123.35L336.58 122.17L337.49 121.04L338.30 120.00L338.79 119.34L339.23 118.73L339.62 118.16L339.99 117.60L340.35 117.03L340.73 116.42L341.14 115.75L341.60 115.00L342.49 113.46L343.49 111.64L344.57 109.63L345.69 107.52L346.82 105.41L347.94 103.39L349.01 101.56L350.00 100.00L350.60 99.13L351.18 98.31L351.74 97.54L352.30 96.82L352.85 96.15L353.39 95.54L353.94 94.99L354.50 94.50L354.90 94.17L355.30 93.86L355.70 93.56L356.10 93.30L356.50 93.08L356.90 92.92L357.30 92.82L357.70 92.80L358.12 92.86L358.56 93.01L359.00 93.22L359.43 93.49L359.86 93.82L360.26 94.18L360.65 94.58L361.00 95.00L361.43 95.63L361.80 96.35L362.13 97.15L362.42 98.02L362.69 98.95L362.96 99.93L363.22 100.95L363.50 102.00L363.91 103.67L364.28 105.50L364.62 107.47L364.96 109.52L365.31 111.64L365.67 113.78L366.06 115.91L366.50 118.00L367.04 120.26L367.64 122.59L368.28 124.96L368.94 127.33L369.59 129.68L370.22 131.98L370.80 134.19L371.30 136.30L371.64 137.87L371.92 139.36L372.18 140.80L372.42 142.20L372.66 143.60L372.91 145.01L373.18 146.47L373.50 148.00L373.89 149.93L374.26 151.99L374.64 154.14L375.06 156.29L375.52 158.41L376.07 160.42L376.72 162.27L377.50 163.90L378.18 165.02L378.92 166.05L379.71 167.02L380.55 167.91L381.45 168.73L382.38 169.48L383.37 170.17L384.40 170.80L385.55 171.37L386.76 171.84L388.03 172.23L389.34 172.54L390.71 172.81L392.11 173.04L393.54 173.27L395.00 173.50L396.85 173.77L398.84 173.99L400.91 174.18L403.02 174.33L405.12 174.45L407.15 174.55L409.06 174.63L410.80 174.70L411.93 174.73L412.99 174.75L414.00 174.75L414.97 174.74L415.92 174.73L416.86 174.72L417.82 174.70L418.80 174.70" stroke="#d6302a"/>
<path d="M230.60 53.40L230.82 55.06L231.05 56.72L231.28 58.39L231.50 60.05L231.72 61.71L231.95 63.38L232.18 65.04L232.40 66.70L232.62 68.35L232.84 70.00L233.06 71.63L233.28 73.27L233.50 74.92L233.72 76.59L233.96 78.28L234.20 80.00L234.48 81.92L234.76 83.86L235.06 85.81L235.36 87.80L235.66 89.81L235.97 91.84L236.28 93.90L236.60 96.00L236.93 98.42L237.24 100.94L237.54 103.52L237.85 106.11L238.19 108.70L238.58 111.23L239.04 113.68L239.60 116.00L240.15 117.95L240.74 119.89L241.38 121.80L242.05 123.66L242.78 125.43L243.54 127.10L244.35 128.63L245.20 130.00L245.85 130.89L246.52 131.68L247.21 132.41L247.93 133.08L248.66 133.71L249.42 134.31L250.20 134.90L251.00 135.50L251.84 136.11L252.69 136.70L253.56 137.26L254.46 137.80L255.38 138.32L256.34 138.83L257.35 139.32L258.40 139.80L259.80 140.39L261.28 140.97L262.84 141.53L264.46 142.06L266.11 142.56L267.77 143.02L269.45 143.43L271.10 143.80L272.79 144.12L274.50 144.39L276.22 144.62L277.96 144.80L279.71 144.95L281.46 145.06L283.23 145.15L285.00 145.20L286.85 145.23L288.74 145.23L290.63 145.19L292.54 145.11L294.43 145.00L296.32 144.85L298.18 144.65L300.00 144.40L301.70 144.13L303.39 143.82L305.05 143.47L306.70 143.09L308.33 142.66L309.96 142.19L311.58 141.67L313.20 141.10L314.88 140.46L316.56 139.78L318.23 139.05L319.90 138.27L321.55 137.43L323.18 136.53L324.80 135.55L326.40 134.50L328.20 133.18L330.04 131.69L331.88 130.08L333.69 128.41L335.43 126.71L337.09 125.05L338.62 123.46L340.00 122.00L340.85 121.06L341.61 120.15L342.31 119.28L342.97 118.42L343.60 117.57L344.24 116.73L344.90 115.87L345.60 115.00L346.37 114.04L347.15 113.03L347.94 112.01L348.73 110.98L349.54 110.00L350.35 109.07L351.17 108.23L352.00 107.50L352.66 106.98L353.34 106.46L354.03 105.97L354.72 105.53L355.41 105.17L356.09 104.89L356.75 104.73L357.40 104.70L358.02 104.81L358.64 105.05L359.25 105.39L359.85 105.82L360.44 106.32L361.00 106.86L361.52 107.43L362.00 108.00L362.50 108.70L362.94 109.46L363.33 110.28L363.69 111.15L364.03 112.07L364.35 113.02L364.67 114.00L365.00 115.00L365.41 116.35L365.80 117.80L366.16 119.32L366.51 120.89L366.86 122.47L367.22 124.04L367.60 125.56L368.00 127.00L368.39 128.22L368.80 129.41L369.22 130.57L369.65 131.71L370.08 132.85L370.51 133.99L370.91 135.13L371.30 136.30L371.66 137.50L371.99 138.72L372.30 139.94L372.61 141.17L372.92 142.39L373.24 143.61L373.60 144.81L374.00 146.00L374.42 147.18L374.86 148.38L375.31 149.58L375.78 150.77L376.28 151.92L376.82 153.02L377.39 154.05L378.00 155.00L378.53 155.73L379.06 156.41L379.61 157.05L380.19 157.66L380.81 158.22L381.48 158.75L382.20 159.24L383.00 159.70L384.20 160.24L385.53 160.69L386.98 161.06L388.51 161.37L390.10 161.63L391.73 161.87L393.37 162.08L395.00 162.30L396.90 162.52L398.91 162.70L400.99 162.84L403.09 162.95L405.16 163.04L407.17 163.10L409.06 163.15L410.80 163.20L411.93 163.23L412.99 163.24L414.00 163.24L414.97 163.23L415.92 163.22L416.86 163.21L417.82 163.20L418.80 163.20" stroke="#fa7a42"/>
<path d="M230.20 64.00L230.32 65.50L230.45 67.00L230.57 68.50L230.70 70.00L230.82 71.50L230.95 73.00L231.07 74.50L231.20 76.00L231.32 77.52L231.44 79.06L231.56 80.61L231.68 82.15L231.80 83.68L231.92 85.17L232.06 86.62L232.20 88.00L232.32 89.05L232.44 90.03L232.55 90.96L232.68 91.88L232.81 92.81L232.96 93.79L233.12 94.84L233.30 96.00L233.62 98.13L233.95 100.58L234.32 103.24L234.73 106.01L235.18 108.77L235.69 111.43L236.26 113.87L236.90 116.00L237.38 117.28L237.88 118.48L238.41 119.60L238.96 120.66L239.55 121.67L240.16 122.63L240.81 123.57L241.50 124.50L242.21 125.37L242.99 126.21L243.81 127.02L244.65 127.80L245.50 128.54L246.32 129.24L247.09 129.90L247.80 130.50L248.23 130.87L248.63 131.20L249.01 131.50L249.37 131.79L249.74 132.07L250.13 132.36L250.54 132.66L251.00 133.00L251.72 133.54L252.49 134.14L253.31 134.77L254.16 135.42L255.06 136.06L256.00 136.68L256.98 137.27L258.00 137.80L259.31 138.38L260.69 138.91L262.15 139.40L263.66 139.85L265.22 140.28L266.80 140.67L268.40 141.04L270.00 141.40L271.78 141.78L273.62 142.14L275.48 142.47L277.38 142.77L279.29 143.03L281.20 143.25L283.11 143.40L285.00 143.50L286.88 143.53L288.77 143.48L290.67 143.39L292.57 143.24L294.46 143.06L296.33 142.86L298.18 142.63L300.00 142.40L301.68 142.18L303.33 141.94L304.96 141.68L306.58 141.40L308.19 141.10L309.79 140.76L311.39 140.40L313.00 140.00L314.67 139.55L316.37 139.06L318.09 138.54L319.79 137.98L321.46 137.40L323.06 136.81L324.59 136.21L326.00 135.60L326.99 135.14L327.89 134.69L328.75 134.23L329.56 133.77L330.37 133.28L331.20 132.76L332.07 132.20L333.00 131.60L334.38 130.66L335.87 129.59L337.42 128.43L339.01 127.23L340.59 126.02L342.14 124.85L343.62 123.76L345.00 122.80L345.96 122.15L346.87 121.52L347.76 120.91L348.63 120.34L349.48 119.80L350.32 119.31L351.15 118.88L352.00 118.50L352.70 118.23L353.40 117.97L354.09 117.75L354.78 117.56L355.46 117.41L356.14 117.32L356.82 117.28L357.50 117.30L358.21 117.38L358.93 117.52L359.66 117.71L360.38 117.95L361.09 118.25L361.77 118.61L362.41 119.02L363.00 119.50L363.64 120.18L364.20 120.98L364.71 121.88L365.18 122.86L365.63 123.89L366.07 124.94L366.52 125.98L367.00 127.00L367.54 128.12L368.08 129.29L368.62 130.48L369.16 131.68L369.69 132.89L370.23 134.07L370.76 135.21L371.30 136.30L371.75 137.20L372.20 138.08L372.63 138.94L373.07 139.77L373.52 140.60L373.99 141.41L374.48 142.21L375.00 143.00L375.55 143.81L376.12 144.63L376.71 145.46L377.32 146.26L377.95 147.03L378.60 147.76L379.29 148.42L380.00 149.00L380.67 149.46L381.37 149.86L382.08 150.21L382.82 150.52L383.58 150.79L384.36 151.04L385.17 151.28L386.00 151.50L387.01 151.74L388.04 151.93L389.11 152.08L390.21 152.21L391.35 152.32L392.52 152.41L393.74 152.50L395.00 152.60L396.80 152.73L398.76 152.83L400.83 152.93L402.95 153.00L405.07 153.07L407.12 153.12L409.05 153.17L410.80 153.20L411.93 153.22L412.99 153.22L414.00 153.23L414.97 153.22L415.92 153.22L416.86 153.21L417.82 153.20L418.80 153.20" stroke="#fdd07c"/>
<path d="M228.60 95.50L228.81 96.56L229.03 97.63L229.24 98.69L229.45 99.75L229.66 100.81L229.88 101.88L230.09 102.94L230.30 104.00L230.51 105.07L230.71 106.14L230.92 107.22L231.12 108.29L231.33 109.36L231.54 110.43L231.77 111.47L232.00 112.50L232.21 113.45L232.40 114.41L232.59 115.35L232.79 116.29L233.01 117.21L233.28 118.10L233.60 118.97L234.00 119.80L234.47 120.60L235.01 121.38L235.60 122.13L236.24 122.85L236.91 123.55L237.60 124.23L238.30 124.88L239.00 125.50L239.70 126.08L240.42 126.63L241.16 127.15L241.92 127.65L242.68 128.13L243.46 128.60L244.23 129.05L245.00 129.50L245.73 129.92L246.45 130.32L247.17 130.71L247.90 131.08L248.64 131.44L249.39 131.80L250.18 132.15L251.00 132.50L252.01 132.91L253.05 133.32L254.11 133.73L255.21 134.12L256.35 134.49L257.52 134.85L258.74 135.19L260.00 135.50L261.68 135.85L263.46 136.16L265.33 136.44L267.24 136.69L269.19 136.91L271.15 137.12L273.09 137.31L275.00 137.50L276.87 137.68L278.75 137.85L280.62 138.01L282.50 138.16L284.37 138.28L286.25 138.38L288.12 138.45L290.00 138.50L291.88 138.52L293.78 138.53L295.68 138.52L297.57 138.48L299.46 138.42L301.33 138.32L303.18 138.18L305.00 138.00L306.68 137.79L308.34 137.54L309.98 137.26L311.61 136.94L313.22 136.61L314.82 136.25L316.41 135.88L318.00 135.50L319.52 135.12L321.01 134.71L322.49 134.29L323.96 133.85L325.43 133.39L326.92 132.93L328.44 132.47L330.00 132.00L331.81 131.45L333.67 130.87L335.57 130.26L337.49 129.65L339.41 129.05L341.32 128.48L343.18 127.96L345.00 127.50L346.58 127.12L348.16 126.72L349.73 126.35L351.28 126.00L352.80 125.71L354.26 125.50L355.67 125.39L357.00 125.40L357.98 125.48L358.92 125.59L359.82 125.76L360.69 125.97L361.54 126.25L362.37 126.59L363.19 127.01L364.00 127.50L365.00 128.29L365.97 129.29L366.91 130.43L367.83 131.66L368.73 132.92L369.60 134.15L370.46 135.30L371.30 136.30L371.91 136.98L372.47 137.64L373.01 138.26L373.54 138.86L374.09 139.44L374.67 139.99L375.30 140.51L376.00 141.00L376.94 141.56L377.98 142.07L379.07 142.55L380.22 142.99L381.41 143.39L382.61 143.76L383.81 144.10L385.00 144.40L386.20 144.67L387.39 144.88L388.59 145.05L389.81 145.19L391.05 145.30L392.32 145.40L393.63 145.50L395.00 145.60L396.84 145.72L398.82 145.82L400.89 145.89L403.01 145.96L405.10 146.00L407.14 146.04L409.05 146.07L410.80 146.10L411.93 146.11L412.99 146.12L414.00 146.12L414.97 146.12L415.92 146.11L416.86 146.11L417.82 146.10L418.80 146.10" stroke="#d3eaf4"/>
<path d="M226.70 116.20L227.15 116.68L227.60 117.15L228.05 117.62L228.50 118.10L228.95 118.58L229.40 119.05L229.85 119.53L230.30 120.00L230.74 120.48L231.18 120.96L231.60 121.44L232.03 121.92L232.47 122.40L232.93 122.87L233.40 123.34L233.90 123.80L234.49 124.31L235.11 124.82L235.75 125.33L236.41 125.83L237.08 126.32L237.78 126.80L238.48 127.26L239.20 127.70L239.97 128.15L240.77 128.58L241.59 128.99L242.42 129.39L243.26 129.78L244.11 130.14L244.96 130.48L245.80 130.80L246.60 131.09L247.38 131.35L248.16 131.59L248.95 131.82L249.75 132.03L250.59 132.23L251.47 132.42L252.40 132.60L253.76 132.83L255.19 133.03L256.69 133.21L258.26 133.37L259.88 133.51L261.55 133.65L263.26 133.77L265.00 133.90L267.30 134.06L269.74 134.21L272.29 134.34L274.89 134.47L277.51 134.57L280.09 134.64L282.61 134.69L285.00 134.70L286.97 134.68L288.87 134.62L290.72 134.55L292.55 134.45L294.37 134.35L296.21 134.23L298.07 134.11L300.00 134.00L302.16 133.88L304.34 133.76L306.55 133.64L308.79 133.51L311.05 133.37L313.34 133.20L315.66 133.02L318.00 132.80L320.72 132.51L323.61 132.18L326.57 131.81L329.55 131.42L332.46 131.02L335.22 130.63L337.76 130.25L340.00 129.90L341.19 129.70L342.28 129.50L343.28 129.30L344.23 129.10L345.16 128.91L346.07 128.73L347.01 128.56L348.00 128.40L349.05 128.23L350.12 128.05L351.20 127.86L352.28 127.69L353.35 127.55L354.42 127.46L355.47 127.44L356.50 127.50L357.47 127.63L358.44 127.82L359.40 128.06L360.34 128.35L361.28 128.69L362.20 129.08L363.11 129.52L364.00 130.00L364.97 130.63L365.93 131.38L366.87 132.21L367.79 133.09L368.70 133.97L369.59 134.83L370.46 135.62L371.30 136.30L371.91 136.76L372.48 137.20L373.03 137.62L373.57 138.01L374.12 138.38L374.70 138.72L375.32 139.03L376.00 139.30L376.96 139.59L378.00 139.80L379.11 139.96L380.26 140.08L381.44 140.17L382.64 140.24L383.83 140.31L385.00 140.40L386.21 140.50L387.41 140.58L388.61 140.65L389.82 140.71L391.06 140.76L392.33 140.81L393.64 140.85L395.00 140.90L396.84 140.96L398.82 141.01L400.89 141.05L403.01 141.09L405.11 141.13L407.14 141.16L409.06 141.18L410.80 141.20L411.93 141.21L412.99 141.21L414.00 141.21L414.97 141.21L415.92 141.21L416.86 141.20L417.82 141.20L418.80 141.20" stroke="#72aad3"/>
<path d="M221.40 130.80L222.51 131.09L223.63 131.38L224.74 131.66L225.85 131.95L226.96 132.24L228.07 132.52L229.19 132.81L230.30 133.10L231.42 133.40L232.57 133.72L233.72 134.04L234.86 134.37L235.99 134.67L237.10 134.96L238.17 135.20L239.20 135.40L239.97 135.52L240.69 135.61L241.38 135.67L242.06 135.72L242.74 135.76L243.45 135.80L244.19 135.85L245.00 135.90L246.20 135.99L247.47 136.07L248.81 136.16L250.20 136.25L251.62 136.34L253.07 136.42L254.54 136.51L256.00 136.60L257.67 136.70L259.37 136.80L261.11 136.90L262.86 137.00L264.64 137.09L266.43 137.19L268.22 137.30L270.00 137.40L271.85 137.51L273.71 137.64L275.59 137.76L277.47 137.89L279.35 138.01L281.24 138.12L283.12 138.22L285.00 138.30L286.87 138.36L288.72 138.42L290.56 138.46L292.41 138.49L294.27 138.51L296.15 138.52L298.06 138.51L300.00 138.50L302.16 138.47L304.34 138.42L306.55 138.35L308.79 138.27L311.05 138.18L313.34 138.09L315.65 137.99L318.00 137.90L320.70 137.79L323.55 137.67L326.47 137.55L329.40 137.41L332.28 137.28L335.05 137.15L337.64 137.02L340.00 136.90L341.44 136.82L342.77 136.74L344.04 136.67L345.24 136.59L346.42 136.52L347.59 136.44L348.78 136.37L350.00 136.30L351.25 136.23L352.49 136.15L353.72 136.06L354.96 135.98L356.21 135.91L357.46 135.86L358.72 135.82L360.00 135.80L361.37 135.81L362.75 135.84L364.14 135.89L365.54 135.95L366.95 136.03L368.38 136.12L369.83 136.21L371.30 136.30L372.92 136.41L374.53 136.55L376.15 136.70L377.80 136.85L379.49 137.01L381.24 137.16L383.07 137.29L385.00 137.40L387.94 137.52L391.22 137.62L394.73 137.70L398.31 137.76L401.84 137.81L405.19 137.85L408.22 137.88L410.80 137.90L412.02 137.91L413.12 137.91L414.13 137.91L415.08 137.91L416.00 137.91L416.91 137.90L417.83 137.90L418.80 137.90" stroke="#2a5fa8"/>
</g>
<rect x="231.10" y="66.90" width="179.50" height="123.50" fill="none" stroke="#6a6a6a" stroke-width="1.05"/>
<path d="M228.20 82.92H231.10M228.20 109.89H231.10M228.20 136.86H231.10M228.20 163.83H231.10M229.50 69.44H231.10M229.50 96.41H231.10M229.50 123.38H231.10M229.50 150.35H231.10M229.50 177.31H231.10M258.10 190.40V193.40M303.00 190.40V193.40M347.90 190.40V193.40M392.80 190.40V193.40M235.65 190.40V192.00M280.55 190.40V192.00M325.45 190.40V192.00M370.35 190.40V192.00" stroke="#7a7a7a" stroke-width="1" fill="none"/>
<text x="226.4" y="84.82" text-anchor="end" style="font-family:'Liberation Serif','Times New Roman',serif;font-weight:bold;font-size:6px" fill="#2a2a2a">400</text>
<text x="226.4" y="111.79" text-anchor="end" style="font-family:'Liberation Serif','Times New Roman',serif;font-weight:bold;font-size:6px" fill="#2a2a2a">200</text>
<text x="226.4" y="138.76" text-anchor="end" style="font-family:'Liberation Serif','Times New Roman',serif;font-weight:bold;font-size:6px" fill="#2a2a2a">0</text>
<text x="226.4" y="165.73" text-anchor="end" style="font-family:'Liberation Serif','Times New Roman',serif;font-weight:bold;font-size:6px" fill="#2a2a2a">-200</text>
<text x="258.10" y="200.1" text-anchor="middle" style="font-family:'Liberation Serif','Times New Roman',serif;font-weight:bold;font-size:6px" fill="#2a2a2a">-0,05</text>
<text x="303.00" y="200.1" text-anchor="middle" style="font-family:'Liberation Serif','Times New Roman',serif;font-weight:bold;font-size:6px" fill="#2a2a2a">0,00</text>
<text x="347.90" y="200.1" text-anchor="middle" style="font-family:'Liberation Serif','Times New Roman',serif;font-weight:bold;font-size:6px" fill="#2a2a2a">0,05</text>
<text x="392.80" y="200.1" text-anchor="middle" style="font-family:'Liberation Serif','Times New Roman',serif;font-weight:bold;font-size:6px" fill="#2a2a2a">0,10</text>
<text x="412.3" y="199.9" style="font-family:'Liberation Serif','Times New Roman',serif;font-weight:bold;font-size:6px;font-size:5.2px" fill="#2a2a2a">Axis</text>
</svg>
</body></html>
